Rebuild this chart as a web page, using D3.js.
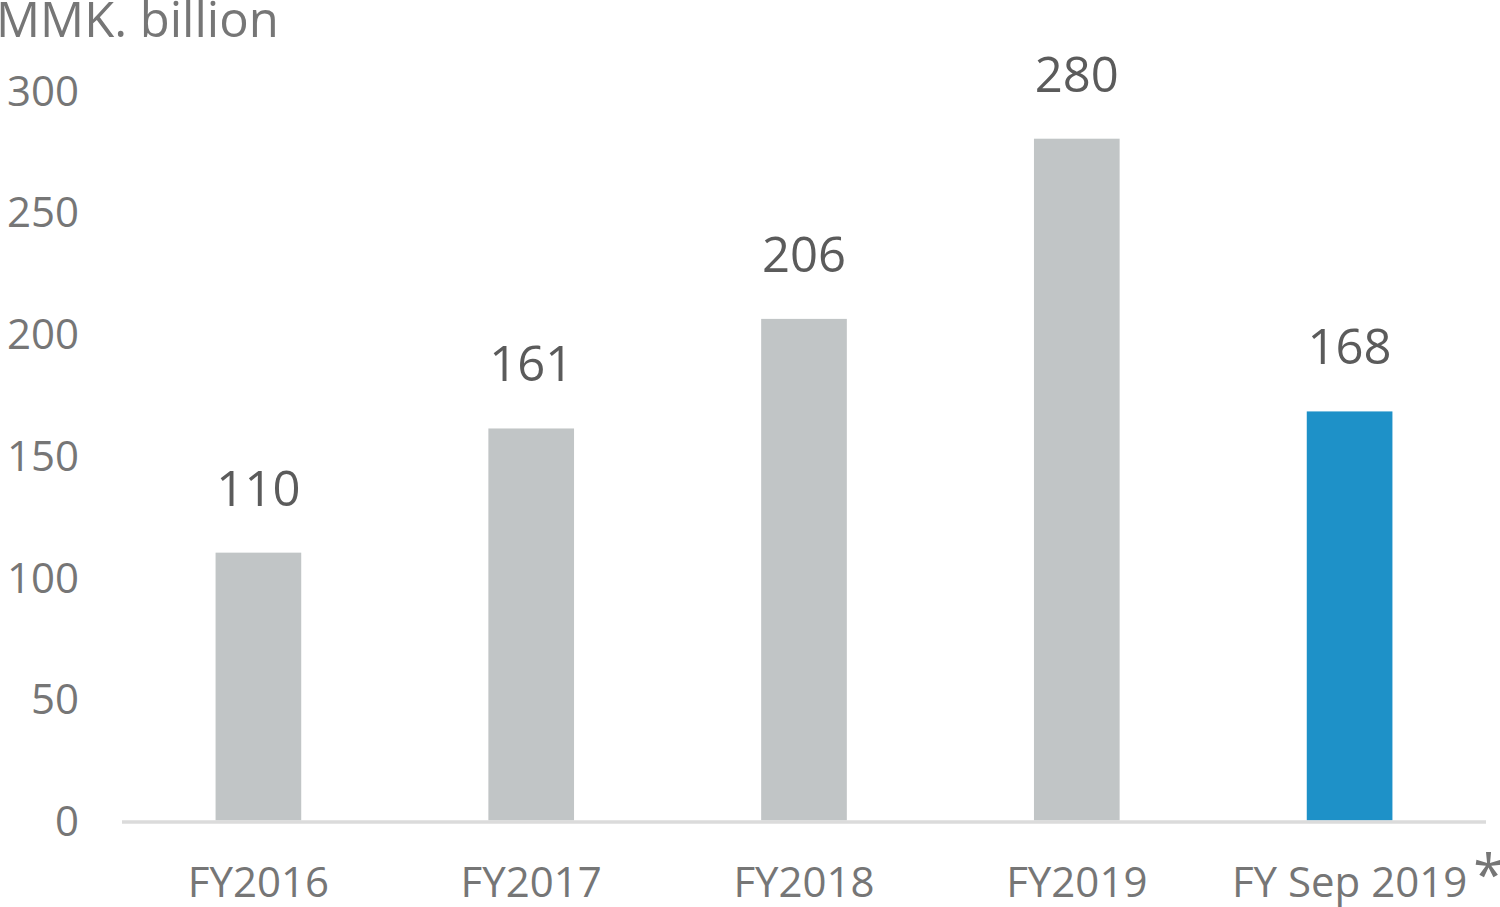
<!DOCTYPE html>
<html>
<head>
<meta charset="utf-8">
<script src="https://cdn.jsdelivr.net/npm/d3@7"></script>
<style>
  html, body { margin: 0; padding: 0; background: #fff; overflow: hidden; }
  svg { display: block; font-family: "Open Sans", sans-serif; }
</style>
</head>
<body>
<div class="chart"></div>
<script>
var years = ["FY2016", "FY2017", "FY2018", "FY2019", "FY Sep 2019"];
var values = [110, 161, 206, 280, 168];
var yTicks = [0, 50, 100, 150, 200, 250, 300];
var highlight = "FY Sep 2019";
var unitLabel = "MMK. billion";

var width = 1500, height = 907;

var svg = d3.select(".chart")
  .append("svg")
    .attr("width", width)
    .attr("height", height);

// scales
var x = d3.scaleBand()
  .domain(years)
  .range([122, 1486])
  .paddingInner(0.686)
  .paddingOuter(0.343);

var y = d3.scaleLinear()
  .domain([0, 300])
  .range([820.5, 90]);

// y axis labels, no line
var yAxis = svg.append("g")
  .attr("transform", "translate(79,0)")
  .call(d3.axisLeft(y).tickValues(yTicks).tickSize(0).tickPadding(0));
yAxis.select(".domain").remove();
yAxis.selectAll("text")
  .attr("font-family", "Open Sans")
  .attr("font-size", 42)
  .attr("fill", "#767676")
  .attr("dy", "0.36em");

svg.append("text")
  .attr("x", -4)
  .attr("y", 37)
  .attr("font-size", 49)
  .attr("fill", "#767676")
  .text(unitLabel);

// bars
var data = years.map(function(d, i) { return {year: d, value: values[i]}; });

svg.selectAll("rect.bar")
  .data(data)
  .enter()
  .append("rect")
  .attr("class", "bar")
  .attr("x", function(d) { return x(d.year); })
  .attr("y", function(d) { return y(d.value); })
  .attr("width", x.bandwidth())
  .attr("height", function(d) { return y(0) - y(d.value); })
  .attr("fill", function(d) { return d.year === highlight ? "#1e91c8" : "#c1c5c6"; });

// baseline
svg.append("line")
  .attr("x1", x.range()[0])
  .attr("x2", x.range()[1])
  .attr("y1", y(0) + 1.5)
  .attr("y2", y(0) + 1.5)
  .attr("stroke", "#dbdbdb")
  .attr("stroke-width", 3.5);

// value labels
svg.selectAll("text.val")
  .data(data)
  .enter()
  .append("text")
  .attr("class", "val")
  .attr("x", function(d) { return x(d.year) + x.bandwidth() / 2; })
  .attr("y", function(d) { return y(d.value) - 47; })
  .attr("text-anchor", "middle")
  .attr("font-size", 49)
  .attr("fill", "#5b5b5b")
  .text(function(d) { return d.value; });

// x axis labels
var xAxis = svg.append("g")
  .attr("transform", "translate(0,897)")
  .call(d3.axisBottom(x).tickSize(0).tickPadding(0));
xAxis.select(".domain").remove();
xAxis.selectAll("text")
  .attr("font-family", "Open Sans")
  .attr("font-size", 42)
  .attr("fill", "#767676")
  .attr("dy", 0)
  .attr("y", 0);

// asterisk after the last label
var lastLabel = xAxis.selectAll("text").filter(function(d) { return d === highlight; });
var labelW = lastLabel.node().getComputedTextLength();
svg.append("text")
  .attr("x", x(highlight) + x.bandwidth() / 2 + labelW / 2 + 6)
  .attr("y", 895)
  .attr("font-size", 56)
  .attr("fill", "#767676")
  .text("*");
</script>
</body>
</html>
